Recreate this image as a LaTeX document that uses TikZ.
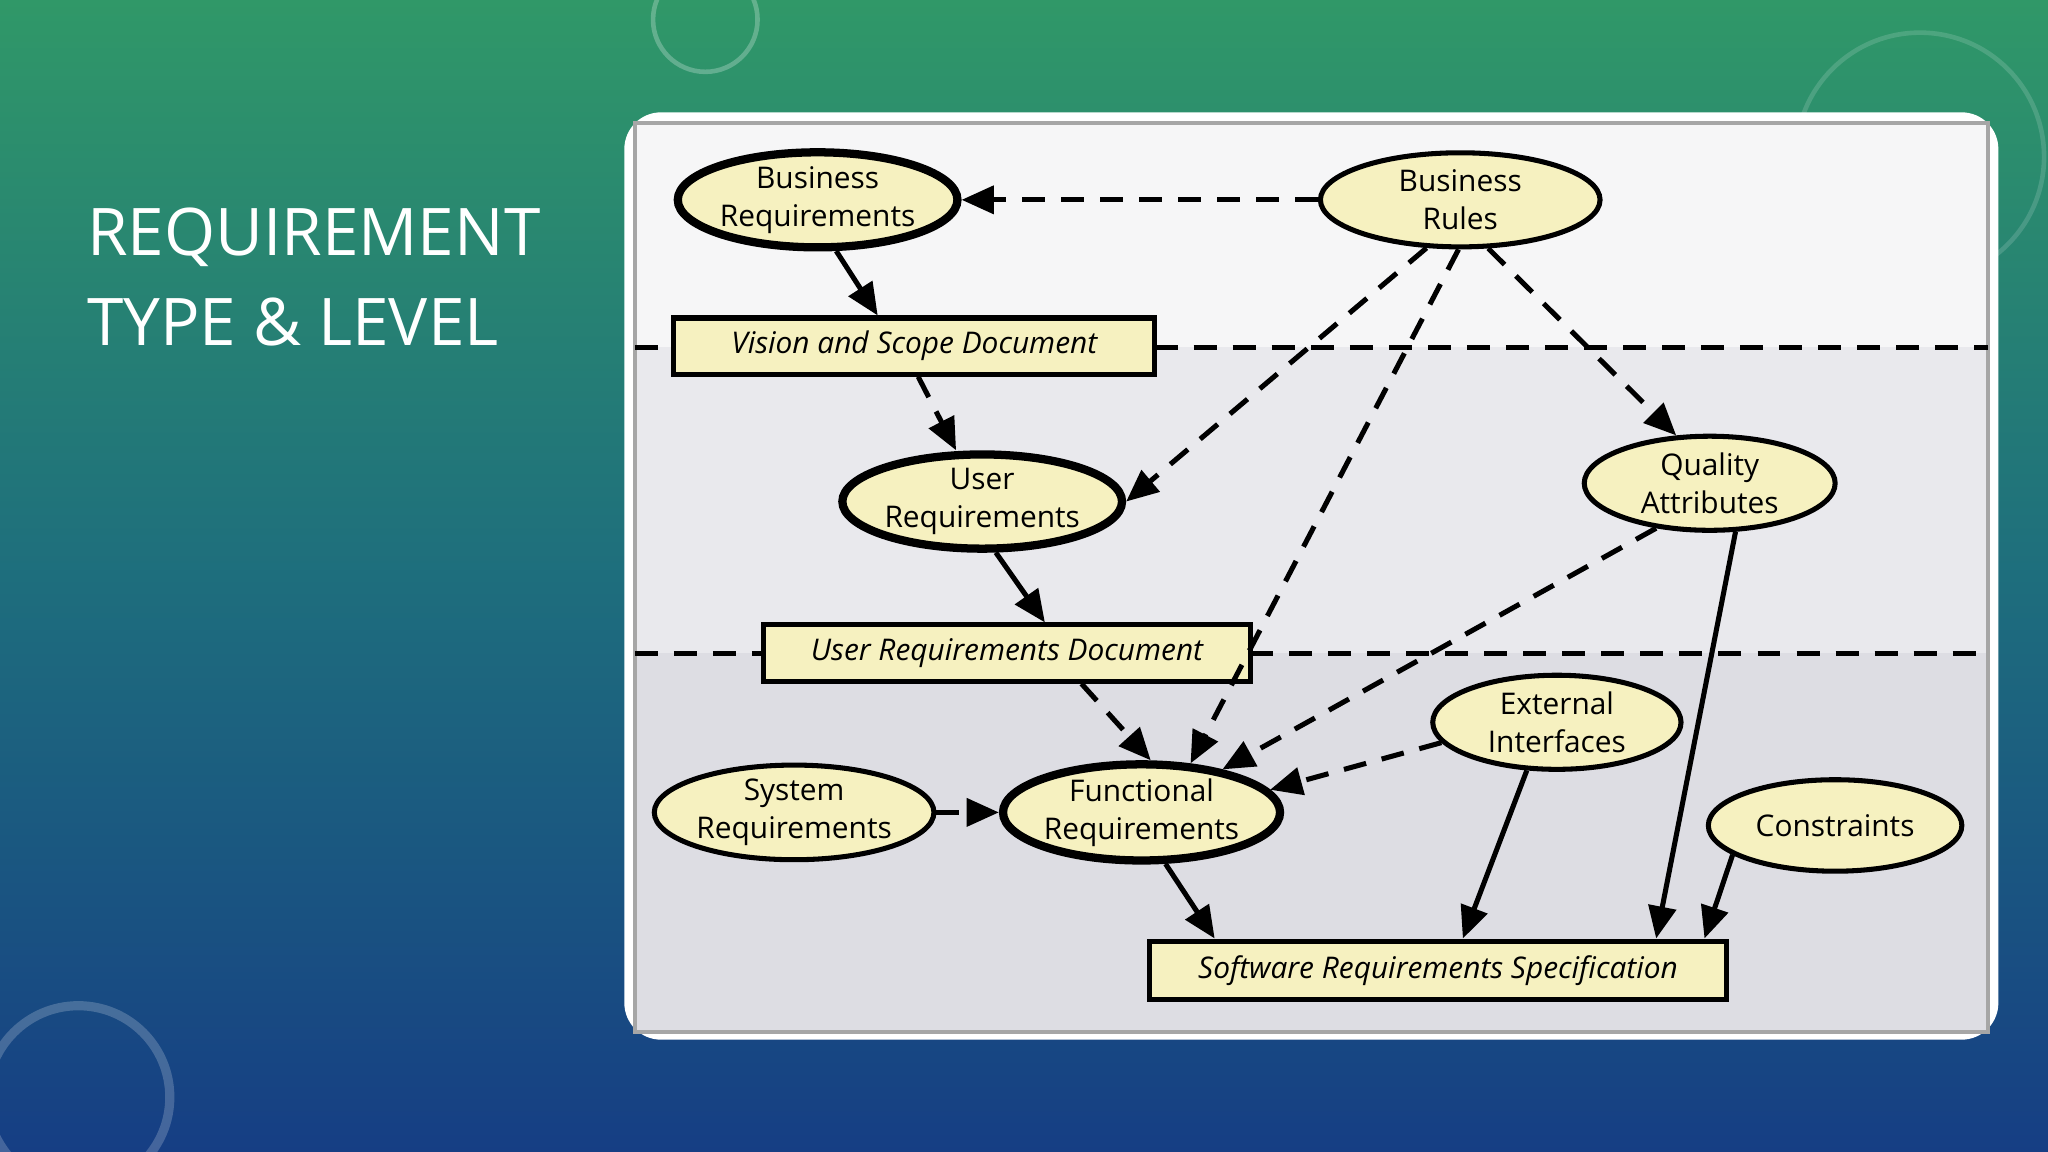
\documentclass[tikz,border=0pt]{standalone}
\usepackage{fontspec}
\setmainfont{Open Sans}
\usetikzlibrary{shapes.geometric,arrows.meta}
\definecolor{ell}{RGB}{246,241,192}
\definecolor{bandA}{RGB}{246,246,247}
\definecolor{bandB}{RGB}{233,233,237}
\definecolor{bandC}{RGB}{221,221,227}
\begin{document}
\begin{tikzpicture}[x=0.01cm,y=-0.01cm,
  el/.style={ellipse,draw,line width=1.1pt,fill=ell,inner sep=0pt,align=center,font=\fontsize{6.5}{8.3}\selectfont},
  thk/.style={line width=1.8pt},
  bx/.style={draw,line width=1.1pt,fill=ell,inner sep=0pt,font=\fontsize{6.5}{8}\selectfont\itshape},
  ar/.style={line width=1.1pt,-{Triangle[length=7pt,width=6pt]}},
  da/.style={ar,dash pattern=on 5pt off 3.5pt},
  hl/.style={line width=1.1pt,dash pattern=on 5pt off 3.5pt}]
\useasboundingbox (0,0) rectangle (1568,882);
\shade[top color={rgb,255:red,48;green,152;blue,104},bottom color={rgb,255:red,22;green,62;blue,132},middle color={rgb,255:red,30;green,110;blue,125}] (0,0) rectangle (1568,882);
\draw[white,opacity=0.25,line width=1pt] (540,15) circle (40);
\draw[white,opacity=0.2,line width=2pt] (60,840) circle (70);
\draw[white,opacity=0.15,line width=1pt] (1470,120) circle (95);
\node[anchor=west,text=white,font=\fontsize{14.3}{19.5}\selectfont,align=left,inner sep=0pt] (title) at (66,212) {REQUIREMENT\\TYPE \& LEVEL};
% panel
\fill[white,rounded corners=8] (478,86) rectangle (1530,796);
\fill[bandA] (486,94) rectangle (1522,266);
\fill[bandB] (486,266) rectangle (1522,500);
\fill[bandC] (486,500) rectangle (1522,790);
\draw[line width=0.8pt,gray!70] (486,94) rectangle (1522,790);
% dashed level lines
\draw[hl] (486,266) -- (516,266); \draw[hl] (884,266) -- (1522,266);
\draw[hl] (486,500) -- (585,500); \draw[hl] (957,500) -- (1522,500);
% nodes
\node[el,thk,minimum width=2.14cm,minimum height=0.72cm] (br) at (626,153) {Business\\Requirements};
\node[el,minimum width=2.14cm,minimum height=0.72cm] (rules) at (1118,153) {Business\\Rules};
\node[bx,minimum width=3.68cm,minimum height=0.43cm] (vis) at (700,265) {Vision and Scope Document};
\node[el,thk,minimum width=2.14cm,minimum height=0.72cm] (ur) at (752,384) {User\\Requirements};
\node[el,minimum width=1.92cm,minimum height=0.72cm] (qa) at (1309,370) {Quality\\Attributes};
\node[bx,minimum width=3.72cm,minimum height=0.43cm] (urd) at (771,500) {User Requirements Document};
\node[el,minimum width=1.9cm,minimum height=0.72cm] (ext) at (1192,553) {External\\Interfaces};
\node[el,minimum width=2.14cm,minimum height=0.72cm] (sys) at (608,622) {System\\Requirements};
\node[el,thk,minimum width=2.12cm,minimum height=0.72cm] (fr) at (874,622) {Functional\\Requirements};
\node[el,minimum width=1.94cm,minimum height=0.7cm] (con) at (1405,632) {Constraints};
\node[bx,minimum width=4.42cm,minimum height=0.45cm] (srs) at (1101,743) {Software Requirements Specification};
% connectors
\draw[da] (rules.west) -- (br.east);
\draw[ar] (br.-70) -- (vis.north -| 672,0);
\draw[da] (vis.south -| 703,0) -- (ur.north -| 732,0);
\draw[da] (rules.235) -- (ur.east);
\draw[da] (rules.-60) -- (qa.125);
\draw[da] (rules.-92) -- (fr.45);
\draw[ar] (ur.-75) -- (urd.north -| 800,0);
\draw[da] (urd.south -| 828,0) -- (fr.80);
\draw[da] (qa.220) -- (fr.28);
\draw[da] (ext.190) -- (fr.10);
\draw[da] (sys.east) -- (fr.west);
\draw[ar] (fr.-65) -- (srs.north -| 930,0);
\draw[ar] (ext.-122) -- (srs.north -| 1120,0);
\draw[ar] (qa.-62) -- (srs.north -| 1268,0);
\draw[ar] (con.196) -- (srs.north -| 1305,0);
\end{tikzpicture}
\end{document}
